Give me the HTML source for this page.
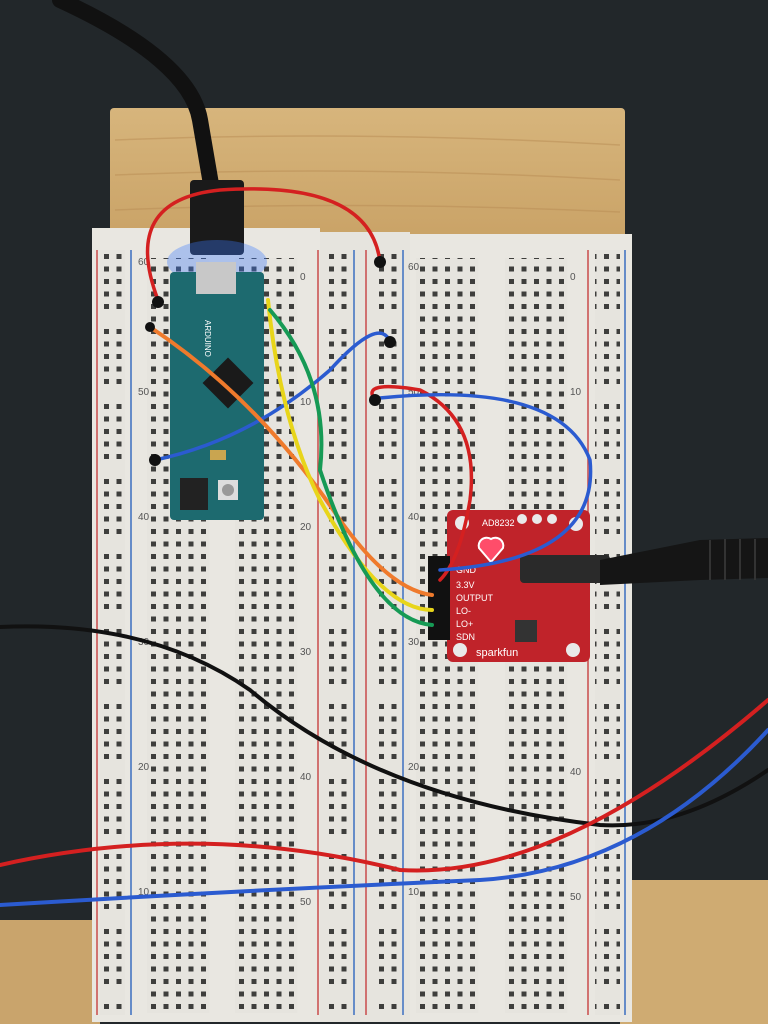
<!DOCTYPE html>
<html><head><meta charset="utf-8"><style>
html,body{margin:0;padding:0;width:768px;height:1024px;overflow:hidden;background:#1f2324}
svg{display:block}
text{font-family:"Liberation Sans",sans-serif}
</style></head><body>
<svg width="768" height="1024" viewBox="0 0 768 1024" xmlns="http://www.w3.org/2000/svg">
<defs>
<pattern id="holes" x="147" y="0" width="12.5" height="12.5" patternUnits="userSpaceOnUse">
<rect width="12.5" height="12.5" fill="#e6e4de"/>
<rect x="4" y="4" width="5" height="5" fill="#3e3e3c"/>
</pattern>
<pattern id="holes2" x="235" y="0" width="12.5" height="12.5" patternUnits="userSpaceOnUse">
<rect width="12.5" height="12.5" fill="#e6e4de"/>
<rect x="4" y="4" width="5" height="5" fill="#3e3e3c"/>
</pattern>
<pattern id="holes3" x="416" y="0" width="12.5" height="12.5" patternUnits="userSpaceOnUse">
<rect width="12.5" height="12.5" fill="#e6e4de"/>
<rect x="4" y="4" width="5" height="5" fill="#3e3e3c"/>
</pattern>
<pattern id="holes4" x="505" y="0" width="12.5" height="12.5" patternUnits="userSpaceOnUse">
<rect width="12.5" height="12.5" fill="#e6e4de"/>
<rect x="4" y="4" width="5" height="5" fill="#3e3e3c"/>
</pattern>
<pattern id="rail" x="0" y="250" width="12.5" height="75" patternUnits="userSpaceOnUse">
<rect width="12.5" height="75" fill="#e6e4de"/>
<g fill="#3e3e3c"><rect x="4" y="4" width="5" height="5"/><rect x="4" y="16.5" width="5" height="5"/><rect x="4" y="29" width="5" height="5"/><rect x="4" y="41.5" width="5" height="5"/><rect x="4" y="54" width="5" height="5"/></g>
</pattern>
<linearGradient id="wood" x1="0" y1="0" x2="0" y2="1">
<stop offset="0" stop-color="#d7b57c"/><stop offset="1" stop-color="#c9a266"/>
</linearGradient>
</defs>
<rect width="768" height="1024" fill="#22272a"/>
<!-- wood -->
<rect x="110" y="108" width="515" height="135" rx="4" fill="url(#wood)"/>
<g stroke="#b98d55" stroke-width="1.5" opacity="0.5" fill="none">
<path d="M115 140 Q360 130 620 145"/><path d="M115 175 Q360 165 620 180"/><path d="M115 210 Q360 200 620 212"/>
</g>
<rect x="0" y="920" width="100" height="104" fill="#c9a46c"/>
<rect x="620" y="880" width="148" height="144" fill="#cfab72"/>
<!-- breadboards -->
<rect x="92" y="228" width="228" height="794" fill="#e9e7e1"/>
<rect x="320" y="232" width="90" height="790" fill="#e6e4de"/>
<rect x="410" y="234" width="222" height="788" fill="#e9e7e1"/>
<!-- rails -->
<rect x="100" y="250" width="25" height="765" fill="url(#rail)"/>
<line x1="97" y1="250" x2="97" y2="1015" stroke="#c94b4b" stroke-width="1.5"/>
<line x1="131" y1="250" x2="131" y2="1015" stroke="#3b6fc0" stroke-width="1.5"/>
<rect x="325" y="250" width="25" height="765" fill="url(#rail)"/>
<line x1="318" y1="250" x2="318" y2="1015" stroke="#c94b4b" stroke-width="1.5"/>
<line x1="354" y1="250" x2="354" y2="1015" stroke="#3b6fc0" stroke-width="1.5"/>
<line x1="366" y1="250" x2="366" y2="1015" stroke="#c94b4b" stroke-width="1.5"/>
<rect x="372" y="250" width="25" height="765" fill="url(#rail)"/>
<line x1="403" y1="250" x2="403" y2="1015" stroke="#3b6fc0" stroke-width="1.5"/>
<rect x="595" y="250" width="25" height="765" fill="url(#rail)"/>
<line x1="588" y1="250" x2="588" y2="1015" stroke="#c94b4b" stroke-width="1.5"/>
<line x1="625" y1="250" x2="625" y2="1015" stroke="#3b6fc0" stroke-width="1.5"/>
<!-- terminal strips -->
<rect x="147" y="258" width="62.5" height="755" fill="url(#holes)"/>
<rect x="235" y="258" width="62.5" height="755" fill="url(#holes2)"/>
<rect x="416" y="258" width="62.5" height="755" fill="url(#holes3)"/>
<rect x="505" y="258" width="62.5" height="755" fill="url(#holes4)"/>
<g font-size="10" fill="#555">
<text x="138" y="265">60</text><text x="138" y="395">50</text><text x="138" y="520">40</text><text x="138" y="645">30</text><text x="138" y="770">20</text><text x="138" y="895">10</text>
<text x="300" y="280">0</text><text x="300" y="405">10</text><text x="300" y="530">20</text><text x="300" y="655">30</text><text x="300" y="780">40</text><text x="300" y="905">50</text>
<text x="408" y="270">60</text><text x="408" y="395">50</text><text x="408" y="520">40</text><text x="408" y="645">30</text><text x="408" y="770">20</text><text x="408" y="895">10</text>
<text x="570" y="280">0</text><text x="570" y="395">10</text><text x="570" y="520">20</text><text x="570" y="645">30</text><text x="570" y="775">40</text><text x="570" y="900">50</text>
</g>
<!-- usb cable -->
<path d="M60 0 Q190 60 200 120 L212 190" stroke="#111" stroke-width="16" fill="none" stroke-linecap="round"/>
<rect x="190" y="180" width="54" height="75" rx="4" fill="#1a1a1a"/>
<ellipse cx="217" cy="262" rx="50" ry="22" fill="#3b7cff" opacity="0.35"/>
<!-- arduino -->
<rect x="170" y="272" width="94" height="248" rx="4" fill="#1d6a6f"/>
<rect x="196" y="262" width="40" height="32" fill="#c8c8c8"/>
<rect x="210" y="365" width="36" height="36" fill="#1a1a1a" transform="rotate(45 228 383)"/>
<rect x="180" y="478" width="28" height="32" fill="#222"/>
<rect x="218" y="480" width="20" height="20" fill="#ddd"/>
<circle cx="228" cy="490" r="6" fill="#999"/>
<rect x="210" y="450" width="16" height="10" fill="#c9a550"/>
<text x="205" y="320" font-size="8" fill="#fff" transform="rotate(90 205 320)">ARDUINO</text>
<!-- sparkfun board -->
<rect x="447" y="510" width="143" height="152" rx="6" fill="#c0232a"/>
<rect x="428" y="556" width="22" height="84" fill="#111"/>
<g fill="#e9e9e9"><circle cx="522" cy="519" r="5"/><circle cx="537" cy="519" r="5"/><circle cx="552" cy="519" r="5"/><circle cx="462" cy="523" r="7"/><circle cx="576" cy="524" r="7"/><circle cx="573" cy="650" r="7"/><circle cx="460" cy="650" r="7"/></g>
<path d="M491 562 l-12 -14 a8 8 0 0 1 12 -9 a8 8 0 0 1 12 9 z" fill="#ff4d6a" stroke="#fff" stroke-width="2"/>
<rect x="515" y="620" width="22" height="22" fill="#333"/>
<g font-size="9" fill="#fff">
<text x="482" y="526">AD8232</text><text x="456" y="573">GND</text><text x="456" y="588">3.3V</text><text x="456" y="601">OUTPUT</text><text x="456" y="614">LO-</text><text x="456" y="627">LO+</text><text x="456" y="640">SDN</text>
<text x="476" y="656" font-size="11">sparkfun</text></g>
<!-- audio jack -->
<rect x="520" y="555" width="90" height="28" rx="4" fill="#2a2a2a"/>
<path d="M600 560 L700 540 L768 538 L768 578 L700 580 L600 585Z" fill="#151515"/>
<g stroke="#333" stroke-width="2"><line x1="710" y1="540" x2="710" y2="580"/><line x1="725" y1="539" x2="725" y2="580"/><line x1="740" y1="539" x2="740" y2="580"/><line x1="755" y1="539" x2="755" y2="580"/></g>
<!-- wires -->
<g fill="none" stroke-linecap="round">
<path d="M158 300 Q120 200 220 190 Q370 180 380 262" stroke="#d42020" stroke-width="3.5"/>
<path d="M155 460 Q250 440 330 370 Q380 315 390 342" stroke="#2b5bd0" stroke-width="3.5"/>
<path d="M150 327 Q260 400 340 520 Q390 590 432 595" stroke="#ef7a2c" stroke-width="4"/>
<path d="M268 300 Q280 420 320 500 Q380 610 432 610" stroke="#e8d51a" stroke-width="4"/>
<path d="M270 310 Q330 380 320 470 Q370 620 432 625" stroke="#169a55" stroke-width="4"/>
<path d="M375 400 Q360 380 420 390 Q480 420 470 500 Q460 560 440 580" stroke="#d42020" stroke-width="3.5"/>
<path d="M380 398 Q560 380 590 460 Q600 560 440 570" stroke="#2b5bd0" stroke-width="3.5"/>
<path d="M0 627 Q150 620 250 690 Q380 800 600 825 Q680 830 768 770" stroke="#111" stroke-width="4"/>
<path d="M0 865 Q200 820 400 870 Q560 880 768 700" stroke="#d42020" stroke-width="4"/>
<path d="M0 905 Q250 890 480 880 Q640 870 768 730" stroke="#2b5bd0" stroke-width="4"/>
</g>
<g fill="#111"><circle cx="380" cy="262" r="6"/><circle cx="390" cy="342" r="6"/><circle cx="158" cy="302" r="6"/><circle cx="155" cy="460" r="6"/><circle cx="150" cy="327" r="5"/><circle cx="375" cy="400" r="6"/></g>
</svg>
</body></html>
